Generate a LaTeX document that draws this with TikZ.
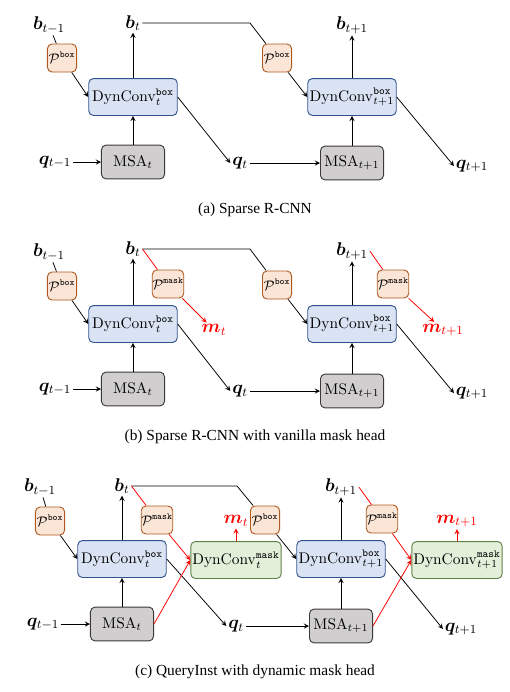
\documentclass[tikz,border=0pt]{standalone}
\usepackage{amsmath}
\usepackage{bm}
\usepackage[no-math]{fontspec}
\newfontfamily\capfont{Liberation Serif}
\usepackage{tikz}
\usetikzlibrary{arrows}

\definecolor{pfill}{RGB}{251,229,214}
\definecolor{pdraw}{RGB}{174,90,33}
\definecolor{cfill}{RGB}{218,227,243}
\definecolor{cdraw}{RGB}{47,82,143}
\definecolor{mfill}{RGB}{208,206,206}
\definecolor{mdraw}{RGB}{58,56,56}
\definecolor{gfill}{RGB}{226,240,217}
\definecolor{gdraw}{RGB}{96,128,70}

\tikzset{
	>=stealth,
	every path/.style={line width=0.5pt},
	pbox/.style={draw=pdraw,fill=pfill,rounded corners=3pt,line width=0.6pt,minimum width=18.9pt,minimum height=18.2pt,inner sep=0pt,font=\small},
	convbox/.style={draw=cdraw,fill=cfill,rounded corners=3pt,line width=0.6pt,minimum width=57.5pt,minimum height=24pt,inner sep=1pt},
	maskbox/.style={draw=gdraw,fill=gfill,rounded corners=3pt,line width=0.6pt,minimum width=57pt,minimum height=24pt,inner sep=1pt},
	msabox/.style={draw=mdraw,fill=mfill,rounded corners=3pt,line width=0.6pt,minimum width=41pt,minimum height=22pt,inner sep=1pt},
	lbl/.style={inner sep=1pt,font=\large},
	captxt/.style={font=\capfont}
}

\begin{document}
\begin{tikzpicture}[x=0.65pt,y=-0.65pt]
	\useasboundingbox (0,0) rectangle (510,692);

	% (a)
	\node [lbl](Abp) at (49,25) {$\bm{b}_{t-1}$};
	\node [pbox](AP0) at (62,58) {$\mathcal{P}^{\mathtt{box}}$};
	\node [convbox](AD0) at (133,97) {$\mathrm{DynConv}_t^{\mathtt{box}}$};
	\node [msabox](AM0) at (133,162) {$\mathrm{MSA}_t$};
	\node [lbl](Aqp) at (55,162) {$\bm{q}_{t-1}$};
	\node [lbl](Abt) at (133,23) {$\bm{b}_t$};
	\node [lbl](Aqt) at (240,163) {$\bm{q}_t$};
	\coordinate (Ak) at (250,23);
	\node [pbox](AP1) at (277,58) {$\mathcal{P}^{\mathtt{box}}$};
	\node [convbox](AD1) at (352,97) {$\mathrm{DynConv}_{t+1}^{\mathtt{box}}$};
	\node [msabox](AM1) at (352,163) {$\mathrm{MSA}_{t+1}$};
	\node [lbl](Abn) at (352,25) {$\bm{b}_{t+1}$};
	\node [lbl](Aqn) at (472,166) {$\bm{q}_{t+1}$};
	\node [captxt](Acap) at (255,210) {(a) Sparse R-CNN};

	\draw (Abp) to (AP0);
	\draw [->] (AP0) to (AD0.west);
	\draw [->] (AM0) to (AD0);
	\draw [->] (AD0) to (Abt);
	\draw [->] (Aqp) to (AM0);
	\draw [->] (AD0.east) to (Aqt.west);
	\draw [->] (Aqt) to (AM1);
	\draw (Abt.east) -- (Ak) -- (AP1);
	\draw [->] (AP1) to (AD1.west);
	\draw [->] (AM1) to (AD1);
	\draw [->] (AD1) to (Abn);
	\draw [->] (AD1.east) to (Aqn.west);

	% (b)
	\node [lbl](Bbp) at (49,252) {$\bm{b}_{t-1}$};
	\node [pbox](BP0) at (62,286) {$\mathcal{P}^{\mathtt{box}}$};
	\node [convbox](BD0) at (133,324) {$\mathrm{DynConv}_t^{\mathtt{box}}$};
	\node [msabox](BM0) at (133,389) {$\mathrm{MSA}_t$};
	\node [lbl](Bqp) at (55,389) {$\bm{q}_{t-1}$};
	\node [lbl](Bbt) at (133,249) {$\bm{b}_t$};
	\node [pbox](BPm0) at (168,284) {$\mathcal{P}^{\mathtt{mask}}$};
	\node [lbl,red](Bm0) at (214,330) {$\bm{m}_t$};
	\node [lbl](Bqt) at (240,391) {$\bm{q}_t$};
	\coordinate (Bk) at (250,249);
	\node [pbox](BP1) at (277,285) {$\mathcal{P}^{\mathtt{box}}$};
	\node [convbox](BD1) at (352,324) {$\mathrm{DynConv}_{t+1}^{\mathtt{box}}$};
	\node [msabox](BM1) at (352,391) {$\mathrm{MSA}_{t+1}$};
	\node [lbl](Bbn) at (352,251) {$\bm{b}_{t+1}$};
	\node [pbox](BPm1) at (393,284) {$\mathcal{P}^{\mathtt{mask}}$};
	\node [lbl,red](Bm1) at (443,330) {$\bm{m}_{t+1}$};
	\node [lbl](Bqn) at (472,393) {$\bm{q}_{t+1}$};
	\node [captxt](Bcap) at (255,437) {(b) Sparse R-CNN with vanilla mask head};

	\draw (Bbp) to (BP0);
	\draw [->] (BP0) to (BD0.west);
	\draw [->] (BM0) to (BD0);
	\draw [->] (BD0) to (Bbt);
	\draw [->] (Bqp) to (BM0);
	\draw [->] (BD0.east) to (Bqt.west);
	\draw [->] (Bqt) to (BM1);
	\draw (Bbt.east) -- (Bk) -- (BP1);
	\draw [->] (BP1) to (BD1.west);
	\draw [->] (BM1) to (BD1);
	\draw [->] (BD1) to (Bbn);
	\draw [->] (BD1.east) to (Bqn.west);
	\draw [red] (Bbt.east) to (BPm0);
	\draw [red,->] (BPm0) to (Bm0);
	\draw [red] (Bbn.east) to (BPm1);
	\draw [red,->] (BPm1) to (Bm1);

	% (c)
	\node [lbl](Cbp) at (40,487) {$\bm{b}_{t-1}$};
	\node [pbox](CP0) at (50,521) {$\mathcal{P}^{\mathtt{box}}$};
	\node [convbox](CD0) at (122,559) {$\mathrm{DynConv}_t^{\mathtt{box}}$};
	\node [msabox](CM0) at (122,624) {$\mathrm{MSA}_t$};
	\node [lbl](Cqp) at (43,624) {$\bm{q}_{t-1}$};
	\node [lbl](Cbt) at (122,486) {$\bm{b}_t$};
	\node [pbox](CPm0) at (157,520) {$\mathcal{P}^{\mathtt{mask}}$};
	\node [maskbox](CX0) at (236,560) {$\mathrm{DynConv}_t^{\mathtt{mask}}$};
	\node [lbl,red](Cm0) at (236,521) {$\bm{m}_t$};
	\node [lbl](Cqt) at (236,626) {$\bm{q}_t$};
	\coordinate (Ck) at (237,486);
	\node [pbox](CP1) at (265,520) {$\mathcal{P}^{\mathtt{box}}$};
	\node [convbox](CD1) at (341,559) {$\mathrm{DynConv}_{t+1}^{\mathtt{box}}$};
	\node [msabox](CM1) at (341,626) {$\mathrm{MSA}_{t+1}$};
	\node [lbl](Cbn) at (341,487) {$\bm{b}_{t+1}$};
	\node [pbox](CPm1) at (382,519) {$\mathcal{P}^{\mathtt{mask}}$};
	\node [maskbox](CX1) at (457,560) {$\mathrm{DynConv}_{t+1}^{\mathtt{mask}}$};
	\node [lbl,red](Cm1) at (457,521) {$\bm{m}_{t+1}$};
	\node [lbl](Cqn) at (461,629) {$\bm{q}_{t+1}$};
	\node [captxt](Ccap) at (255,672) {(c) QueryInst with dynamic mask head};

	\draw (Cbp) to (CP0);
	\draw [->] (CP0) to (CD0.west);
	\draw [->] (CM0) to (CD0);
	\draw [->] (CD0) to (Cbt);
	\draw [->] (Cqp) to (CM0);
	\draw [->] (CD0.east) to (Cqt.west);
	\draw [->] (Cqt) to (CM1);
	\draw (Cbt.east) -- (Ck) -- (CP1);
	\draw [->] (CP1) to (CD1.west);
	\draw [->] (CM1) to (CD1);
	\draw [->] (CD1) to (Cbn);
	\draw [->] (CD1.east) to (Cqn.west);
	\draw [red] (Cbt.east) to (CPm0);
	\draw [red,->] (CPm0) to (CX0.west);
	\draw [red,->] (CM0.east) to (CX0.west);
	\draw [red,->] (CX0) to (Cm0);
	\draw [red] (Cbn.east) to (CPm1);
	\draw [red,->] (CPm1) to (CX1.west);
	\draw [red,->] (CM1.east) to (CX1.west);
	\draw [red,->] (CX1) to (Cm1);
\end{tikzpicture}
\end{document}
